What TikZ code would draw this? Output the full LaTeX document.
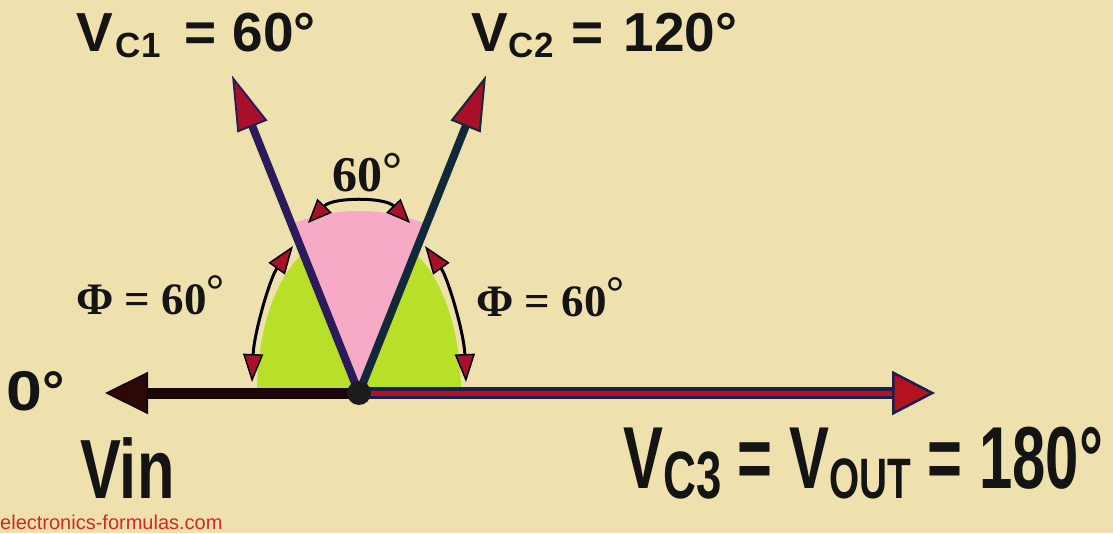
\documentclass[tikz,border=0pt]{standalone}
\usepackage{fontspec}
\usepackage{graphicx}
\setmainfont{Liberation Serif}
\newfontfamily\arialfam{Liberation Sans}
\usetikzlibrary{arrows.meta,calc}
\definecolor{bg}{HTML}{EFE1AE}
\definecolor{lime}{HTML}{B8E028}
\definecolor{pinkfill}{HTML}{F6AAC6}
\definecolor{tipred}{HTML}{A8102A}
\definecolor{navyA}{HTML}{2B1B5A}
\definecolor{tealA}{HTML}{10283A}
\definecolor{navyB}{HTML}{1C1F4F}
\definecolor{redB}{HTML}{B3121F}
\definecolor{blackA}{HTML}{1A0606}
\definecolor{brownA}{HTML}{2E0808}
\definecolor{dotcol}{HTML}{1C1C1C}
\definecolor{wmred}{HTML}{D62A1E}
\newcommand\mySans[1]{\arialfam\bfseries\fontsize{#1}{#1}\selectfont}
\newcommand\mySerif[1]{\bfseries\fontsize{#1}{#1}\selectfont}
\tikzset{
  txt/.style={anchor=base west, inner sep=0pt, text=black!92},
  phasor/.style={line width=8pt},
  bighead/.style={-{Triangle[length=55pt,width=32pt,fill=tipred,line width'=2pt]}},
  smallarc/.style={draw=black, line width=3pt,
    {Triangle[length=28pt,width=20pt,fill=tipred,line width'=1.5pt]}-{Triangle[length=28pt,width=20pt,fill=tipred,line width'=1.5pt]}},
  toparc/.style={draw=black, line width=3pt,
    {Triangle[length=24pt,width=20pt,fill=tipred,line width'=1.5pt]}-{Triangle[length=24pt,width=20pt,fill=tipred,line width'=1.5pt]}},
}
\begin{document}
\begin{tikzpicture}[x=1pt,y=1pt]
\fill[bg] (0,0) rectangle (1113,533);
\useasboundingbox (0,0) rectangle (1113,533);

\coordinate (O) at (359,140);
\coordinate (c1) at ($(O)+(111.8:342)$);
\coordinate (c2) at ($(O)+(68.2:342)$);
\coordinate (L) at (105,140);
\coordinate (R) at (935,140);

% green sectors
\fill[lime] (O) -- (257,141) .. controls (257,200) and (275,255) .. ($(O)!0.44!(c1)$) -- cycle;
\fill[lime] (O) -- (461,141) .. controls (461,200) and (443,255) .. ($(O)!0.44!(c2)$) -- cycle;
% pink sector
\fill[pinkfill] (O) -- ($(O)+(111.8:182)$) arc[start angle=111.8, end angle=68.2, radius=182] -- cycle;

% angle arrows
\coordinate (ta1) at (308,310);
\coordinate (ta2) at (410,310);
\draw[toparc] (ta1) .. controls (333,336) and (385,336) .. (ta2);
\coordinate (la1) at (252,151);
\coordinate (la2) at (293,287);
\draw[smallarc] (la1) .. controls (254,200) and (270,255) .. (la2);
\coordinate (ra1) at (466,151);
\coordinate (ra2) at (425,287);
\draw[smallarc] (ra1) .. controls (464,200) and (448,255) .. (ra2);

% phasors
\draw[phasor, navyA, bighead] (O) -- (c1);
\draw[phasor, tealA, bighead] (O) -- (c2);
\draw[blackA, line width=11pt, -{Triangle[length=43pt,width=42pt,fill=brownA,line width'=2pt]}] (O) -- (L);
\draw[navyB, line width=12pt, -{Triangle[length=43pt,width=44pt,fill=redB,line width'=2.5pt]}] (O) -- (R);
\draw[redB, line width=5pt, shorten >=43pt] (O) -- (R);
\fill[dotcol] (O) circle[radius=12];

% labels
\node[txt] (tvc1) at (76,481) {\mySans{55}V\kern3pt\raisebox{-6pt}{\fontsize{35}{35}\selectfont C1}\hspace{24pt}=\hspace{16pt}60°};
\node[txt] (tvc2) at (471,481) {\mySans{55}V\kern1pt\raisebox{-6pt}{\fontsize{35}{35}\selectfont C2}\hspace{18pt}=\hspace{20pt}120°};
\node[txt] (tmid) at (332,341) {\mySerif{50}60\raisebox{0.1em}{°}};
\node[txt] (tphl) at (76,218) {\mySerif{45}Φ = 60\raisebox{0.2em}{°}};
\node[txt] (tphr) at (476,216) {\mySerif{45}Φ = 60\raisebox{0.2em}{°}};
\node[txt] (tzero) at (6,123) {\mySans{56}\scalebox{1.15}[1]{0}°};
\node[txt] (tvin) at (80,35) {\scalebox{0.73}[1]{\mySans{84}Vin}};
\node[txt] (tvout) at (623,45) {\scalebox{0.68}[1]{\mySans{88}V\raisebox{-10pt}{\fontsize{67}{67}\selectfont C3} = V\raisebox{-10pt}{\fontsize{57}{57}\selectfont OUT} = 180°}};
\node[anchor=base west, inner sep=0pt, text=wmred] (twm) at (0,4) {\arialfam\fontsize{20}{20}\selectfont electronics-formulas.com};
\end{tikzpicture}
\end{document}
